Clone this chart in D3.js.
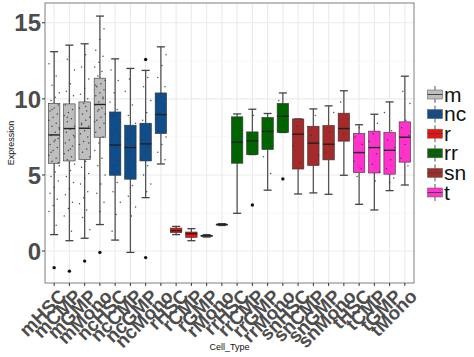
<!DOCTYPE html>
<html><head><meta charset="utf-8">
<script src="https://cdn.jsdelivr.net/npm/d3@7"></script>
<style>body{margin:0;background:#fff}svg{display:block}</style>
</head><body><svg id="c" width="474" height="357"></svg>
<script>
const categories = ["mHSC","mCMP","mGMP","mMono","ncHSC","ncCMP","ncGMP","ncMono","rHSC","rCMP","rGMP","rMono","rrHSC","rrCMP","rrGMP","rrMono","snHSC","snCMP","snGMP","snMono","tHSC","tCMP","tGMP","tMono"];
const categoryGroup = ["m","m","m","m","nc","nc","nc","nc","r","r","r","r","rr","rr","rr","rr","sn","sn","sn","sn","t","t","t","t"];
const groups = ["m","nc","r","rr","sn","t"];
const groupColors = ["#BEBEBE","#104E8B","#EE1111","#006400","#A52A2A","#FF33CC"];
const lowerWhisker = [1.08,0.68,0.84,1.74,0.72,-0.09,3.51,5.72,1.08,0.68,0.92,1.68,2.48,6.34,4.0,7.79,3.75,3.82,3.73,4.98,3.07,2.7,3.97,4.34];
const q1 = [5.77,5.92,6.01,7.48,4.98,4.72,5.92,7.72,1.21,0.9,0.97,1.71,5.77,6.34,6.67,7.79,5.39,5.62,5.99,7.22,5.16,5.13,5.05,5.84];
const median = [7.63,8.05,8.07,9.63,6.97,6.8,7.04,8.97,1.34,1.14,1.0,1.74,7.15,7.24,7.86,8.86,7.68,7.09,7.02,8.05,6.47,6.8,6.62,7.48];
const q3 = [9.7,9.67,9.8,11.36,9.14,8.27,8.4,10.39,1.51,1.25,1.03,1.77,8.82,7.83,8.78,9.7,8.68,8.2,8.25,9.06,7.72,7.88,7.79,8.49];
const upperWhisker = [13.1,13.53,13.62,15.44,12.63,12.0,11.87,13.42,1.62,1.47,1.08,1.8,9.01,9.32,9.04,10.39,8.68,9.34,9.54,10.53,8.3,8.99,9.8,11.49];
const outlierCategory = ["mHSC","mCMP","mGMP","mMono","ncGMP","ncGMP","rrCMP","rrMono"];
const outlierValue = [-1.09,-1.32,-0.66,-0.09,12.59,-0.43,3.03,4.74];
const jitterValues = [
  [12.3,11.5,10.9,10.4,10.1,9.9,9.6,9.4,9.2,9.0,8.8,8.6,8.4,8.2,8.0,7.8,7.6,7.4,7.2,7.0,6.8,6.6,6.3,6.1,5.9,5.6,5.2,4.9,4.6,4.2,3.8,3.4,3.0,2.6,1.7,9.3,8.1,7.3,6.5,5.8],
  [12.6,11.9,11.0,10.5,10.2,9.9,9.6,9.3,9.1,8.9,8.7,8.5,8.2,8.0,7.8,7.6,7.3,7.1,6.9,6.6,6.4,6.2,6.0,5.7,5.3,4.9,4.5,4.1,3.7,3.2,2.8,2.3,1.3,8.8,7.5,6.7],
  [12.9,12.1,11.3,10.7,10.3,10.0,9.7,9.4,9.2,9.0,8.8,8.6,8.4,8.2,7.9,7.7,7.5,7.2,7.0,6.7,6.5,6.2,5.9,5.5,5.1,4.8,4.4,3.9,3.5,3.1,2.7,2.2,1.4,9.5,8.3,7.1],
  [14.6,13.9,13.2,12.8,12.4,12.1,11.8,11.5,11.2,11.0,10.8,10.6,10.4,10.2,10.0,9.8,9.6,9.4,9.2,9.0,8.8,8.6,8.4,8.1,7.8,7.5,7.1,6.6,6.1,5.6,5.0,4.4,3.8,3.2,2.6,10.9,10.1,9.3,8.5],
  [11.9,11.2,10.4,9.8,9.3,8.9,8.5,8.0,7.6,7.2,6.8,6.4,6.0,5.6,5.2,4.5,3.9,3.2,2.4,1.3],
  [11.3,10.5,9.6,8.9,8.4,7.9,7.4,7.0,6.6,6.1,5.7,5.3,4.9,4.3,3.6,2.9,2.3],
  [11.4,10.8,9.9,9.1,8.6,8.1,7.7,7.3,6.9,6.5,6.1,5.6,5.0,4.4,3.9],
  [12.9,12.2,11.4,10.8,10.3,9.9,9.5,9.1,8.7,8.3,7.9,7.5,7.0,6.5,6.0],
  [],[],[],[],
  [8.6,7.9,7.1,6.3],
  [8.9,7.6,6.8],
  [8.5,7.4,6.2,5.1],
  [9.9,9.3,8.4],
  [8.2,6.9,5.8],
  [8.9,7.6,6.3],
  [9.1,7.8,6.5],
  [9.8,8.7,7.7],
  [8.1,7.5,7.0,6.5,5.9,5.4,4.9],
  [8.4,7.7,7.2,6.4,5.7,5.2,4.6],
  [9.1,7.9,7.3,6.8,6.0,5.4,4.8,4.5],
  [10.5,9.7,8.6,8.1,7.6,7.0,6.1,5.6]
];
const yTicks = [0,5,10,15];
const yMinorTicks = [-2.5,2.5,7.5,12.5];

const svg = d3.select("#c");
const L = 45, R = 414, T = 3, B = 283;
const x = d3.scalePoint().domain(categories).range([L, R]).padding(0.6);
const step = x.step();
const y = d3.scaleLinear().domain([-2.1, 16.3]).range([B, T]);
const color = d3.scaleOrdinal().domain(groups).range(groupColors);
const FONT = "Liberation Sans, Arial, Helvetica, sans-serif";

// grid
const g = svg.append("g");
g.selectAll(".ymin").data(yMinorTicks.filter(v => y(v) > T && y(v) < B)).join("line")
  .attr("x1", L).attr("x2", R).attr("y1", d => y(d)).attr("y2", d => y(d))
  .attr("stroke", "#F2F2F2").attr("stroke-width", 0.6);
g.selectAll(".ymaj").data(yTicks).join("line")
  .attr("x1", L).attr("x2", R).attr("y1", d => y(d)).attr("y2", d => y(d))
  .attr("stroke", "#EBEBEB").attr("stroke-width", 1.1);
g.selectAll(".xmaj").data(categories).join("line")
  .attr("x1", d => x(d)).attr("x2", d => x(d)).attr("y1", T).attr("y2", B)
  .attr("stroke", "#EBEBEB").attr("stroke-width", 1.1);

const bw = step * 0.75;
const idx = categories.map((c, i) => i);
const boxes = svg.append("g").selectAll("g").data(idx).join("g");
// whiskers
boxes.append("line").attr("x1", i => x(categories[i])).attr("x2", i => x(categories[i]))
  .attr("y1", i => y(q3[i])).attr("y2", i => y(upperWhisker[i]))
  .attr("stroke", "#555").attr("stroke-width", 1.3);
boxes.append("line").attr("x1", i => x(categories[i])).attr("x2", i => x(categories[i]))
  .attr("y1", i => y(q1[i])).attr("y2", i => y(lowerWhisker[i]))
  .attr("stroke", "#555").attr("stroke-width", 1.3);
// caps
[upperWhisker, lowerWhisker].forEach(arr => {
  boxes.append("line").attr("x1", i => x(categories[i]) - bw * 0.35).attr("x2", i => x(categories[i]) + bw * 0.35)
    .attr("y1", i => y(arr[i])).attr("y2", i => y(arr[i]))
    .attr("stroke", "#444").attr("stroke-width", 1.3);
});
boxes.append("rect").attr("x", i => x(categories[i]) - bw / 2).attr("width", bw)
  .attr("y", i => y(q3[i])).attr("height", i => Math.max(0.8, y(q1[i]) - y(q3[i])))
  .attr("fill", i => color(categoryGroup[i])).attr("stroke", "#333").attr("stroke-width", 0.6);
boxes.append("line").attr("x1", i => x(categories[i]) - bw / 2).attr("x2", i => x(categories[i]) + bw / 2)
  .attr("y1", i => y(median[i])).attr("y2", i => y(median[i]))
  .attr("stroke", "#222").attr("stroke-width", 1.4);

// outliers
svg.append("g").selectAll("circle").data(outlierValue).join("circle")
  .attr("cx", (d, i) => x(outlierCategory[i])).attr("cy", d => y(d)).attr("r", 1.7).attr("fill", "#111");

// jitter points
const jit = [];
jitterValues.forEach((vals, ci) => vals.forEach((v, k) => jit.push({ci, v, k})));
svg.append("g").selectAll("circle").data(jit).join("circle")
  .attr("cx", d => x(categories[d.ci]) + (((d.k * 7 + d.ci * 3) % 11) / 10 - 0.5) * bw * 0.9)
  .attr("cy", d => y(d.v)).attr("r", 0.75).attr("fill", "#333").attr("opacity", 0.85);

// panel border
svg.append("rect").attr("x", L).attr("y", T).attr("width", R - L).attr("height", B - T)
  .attr("fill", "none").attr("stroke", "#7F7F7F").attr("stroke-width", 1);

// y axis
const ya = svg.append("g");
ya.selectAll("line").data(yTicks).join("line").attr("x1", L - 3).attr("x2", L)
  .attr("y1", d => y(d)).attr("y2", d => y(d)).attr("stroke", "#333");
ya.selectAll("text").data(yTicks).join("text").attr("x", L - 4).attr("y", d => y(d)).attr("dy", "0.36em")
  .attr("text-anchor", "end").attr("font-family", FONT).attr("font-weight", "bold")
  .attr("font-size", 24).attr("fill", "#4D4D4D").text(d => d);

// x axis
const xa = svg.append("g");
xa.selectAll("line").data(categories).join("line").attr("x1", d => x(d)).attr("x2", d => x(d))
  .attr("y1", B).attr("y2", B + 3).attr("stroke", "#333");
xa.selectAll("text").data(categories).join("text")
  .attr("transform", d => `translate(${x(d) + 4},${B + 5}) rotate(-45)`)
  .attr("text-anchor", "end").attr("dy", "0.7em")
  .attr("font-family", FONT).attr("font-weight", "bold")
  .attr("font-size", 19).attr("fill", "#4D4D4D").text(d => d);

// titles
svg.append("text").attr("x", (L + R) / 2).attr("y", 350).attr("text-anchor", "middle")
  .attr("font-family", FONT).attr("font-size", 9).attr("fill", "#111").text("Cell_Type");
svg.append("text").attr("transform", `translate(14,${(T + B) / 2}) rotate(-90)`).attr("text-anchor", "middle")
  .attr("font-family", FONT).attr("font-size", 9).attr("fill", "#111").text("Expression");

// legend
const lg = svg.append("g").attr("transform", "translate(427,86)");
const items = lg.selectAll("g").data(groups).join("g").attr("transform", (d, i) => `translate(0,${i * 19.6})`);
items.append("line").attr("x1", 8).attr("x2", 8).attr("y1", 0).attr("y2", 17).attr("stroke", "#555").attr("stroke-width", 1);
items.append("rect").attr("x", 0.5).attr("y", 4).attr("width", 15).attr("height", 9)
  .attr("fill", d => color(d)).attr("stroke", "#666").attr("stroke-width", 0.6);
items.append("line").attr("x1", 0.5).attr("x2", 15.5).attr("y1", 8.5).attr("y2", 8.5).attr("stroke", "#444").attr("stroke-width", 1);
items.append("text").attr("x", 17).attr("y", 8.5).attr("dy", "0.34em")
  .attr("font-family", FONT).attr("font-size", 21).attr("fill", "#111").text(d => d);
</script></body></html>
